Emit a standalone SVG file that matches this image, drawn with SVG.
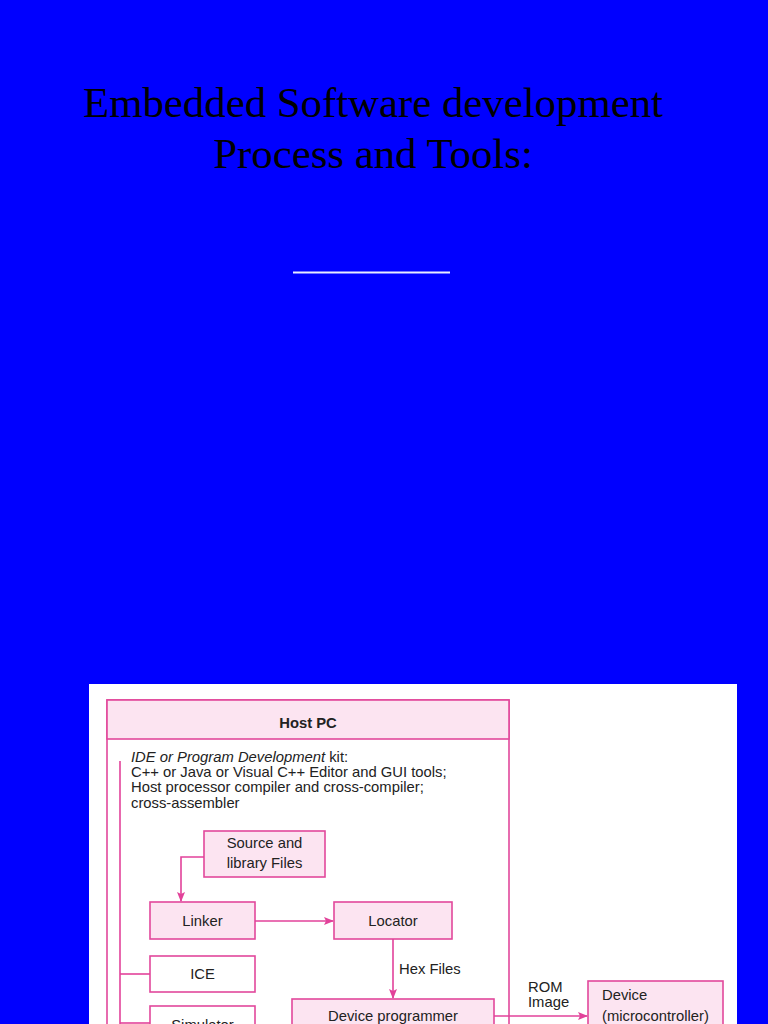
<svg xmlns="http://www.w3.org/2000/svg" width="768" height="1024" viewBox="0 0 768 1024">
<defs>
<marker id="ah" markerWidth="10" markerHeight="8" refX="9" refY="4" orient="auto" markerUnits="userSpaceOnUse">
<path d="M0,0 L10,4 L0,8 L2,4 z" fill="#e2429a"/>
</marker>
<style>
.box{fill:#fce4f1;stroke:#e2489c;stroke-width:1.6}
.wbox{fill:#ffffff;stroke:#e2489c;stroke-width:1.6}
.ln{fill:none;stroke:#e2429a;stroke-width:1.6}
.t{font-family:"Liberation Sans",Arial,sans-serif;font-size:14.8px;fill:#222}
.c{text-anchor:middle}
.title{font-family:"Liberation Serif","Times New Roman",serif;font-size:42.8px;fill:#000;text-anchor:middle}
</style>
</defs>
<rect x="0" y="0" width="768" height="1024" fill="#0000ff"/>
<g id="title">
<text class="title" x="373" y="117">Embedded Software development</text>
<text class="title" x="373" y="168">Process and Tools:</text>
<line x1="293" y1="272.5" x2="450" y2="272.5" stroke="#e8ecff" stroke-width="2"/>
</g>
<rect x="89" y="684" width="648" height="340" fill="#ffffff"/>
<g id="hostpc">
<rect class="wbox" x="107" y="700" width="402" height="340"/>
<rect class="box" x="107" y="700" width="402" height="39"/>
<text class="t c" x="308" y="728" font-weight="bold" font-size="15.5">Host PC</text>
<text class="t" x="131" y="762"><tspan font-style="italic">IDE or Program Development</tspan> kit:</text>
<text class="t" x="131" y="777">C++ or Java or Visual C++ Editor and GUI tools;</text>
<text class="t" x="131" y="792">Host processor compiler and cross-compiler;</text>
<text class="t" x="131" y="808">cross-assembler</text>
</g>
<g id="source">
<rect class="box" x="204" y="831" width="121" height="46"/>
<text class="t c" x="264.5" y="848">Source and</text>
<text class="t c" x="264.5" y="868">library Files</text>
</g>
<g id="linker">
<rect class="box" x="150" y="902" width="105" height="37"/>
<text class="t c" x="202.5" y="926">Linker</text>
</g>
<g id="locator">
<rect class="box" x="334" y="902" width="118" height="37"/>
<text class="t c" x="393" y="926">Locator</text>
</g>
<g id="ice">
<rect class="wbox" x="150" y="956" width="105" height="36"/>
<text class="t c" x="202.5" y="979">ICE</text>
</g>
<g id="simulator">
<rect class="wbox" x="150" y="1006" width="105" height="40"/>
<text class="t c" x="202.5" y="1030">Simulator</text>
</g>
<g id="devprog">
<rect class="box" x="292" y="999" width="202" height="40"/>
<text class="t c" x="393" y="1021">Device programmer</text>
</g>
<g id="device">
<rect class="box" x="588" y="981" width="135" height="60"/>
<text class="t" x="602" y="1000">Device</text>
<text class="t" x="602" y="1021">(microcontroller)</text>
</g>
<g id="connectors">
<polyline class="ln" points="204,857 181,857 181,901" marker-end="url(#ah)"/>
<line class="ln" x1="255" y1="921" x2="333" y2="921" marker-end="url(#ah)"/>
<line class="ln" x1="393" y1="939" x2="393" y2="998" marker-end="url(#ah)"/>
<line class="ln" x1="494" y1="1016" x2="587" y2="1016" marker-end="url(#ah)"/>
<line class="ln" x1="120" y1="761" x2="120" y2="1024"/>
<line class="ln" x1="120" y1="974" x2="150" y2="974"/>
<line class="ln" x1="120" y1="1023" x2="150" y2="1023"/>
<text class="t" x="399" y="974">Hex Files</text>
<text class="t" x="528" y="992">ROM</text>
<text class="t" x="528" y="1007">Image</text>
</g>
</svg>
